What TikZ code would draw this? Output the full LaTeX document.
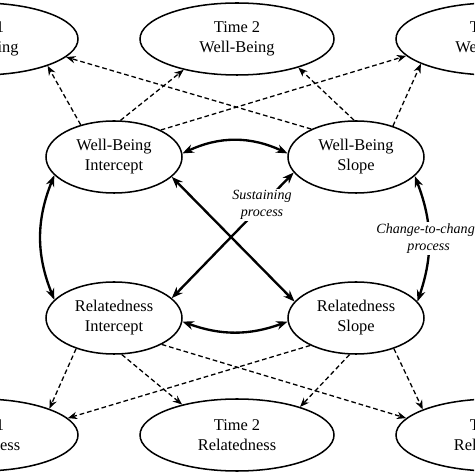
\documentclass[tikz,border=0pt]{standalone}
\usepackage{fontspec}
\setmainfont{Liberation Serif}
\usepackage{tikz}
\usetikzlibrary{shapes.geometric, arrows.meta, positioning}
\tikzset{
	timevar/.style ={ellipse, draw=black, line width=1.3pt, minimum width=5.82cm, minimum height=2.16cm, align=center, inner sep=0pt, font=\fontsize{14}{17}\selectfont},
	growth/.style  ={ellipse, draw=black, line width=1.3pt, minimum width=4.08cm, minimum height=2.16cm, align=center, inner sep=0pt, font=\fontsize{14}{17}\selectfont},
	covar/.style   ={arrows={Stealth[length=3.4mm,width=2.6mm]-Stealth[length=3.4mm,width=2.6mm]}, line width=2pt},
	loading/.style ={-{Stealth[length=2.8mm, width=2.2mm]}, line width=1.1pt, dash pattern=on 4pt off 2.5pt},
	procname/.style={font=\fontsize{12}{14.5}\selectfont\itshape, align=center, fill=white, inner sep=1pt},
}

\begin{document}
\begin{tikzpicture}[x=0.03cm, y=0.03cm]
	\useasboundingbox (0,0) rectangle (474,474);
	\clip (0,0) rectangle (474,474);
	% repeated measures
	\node[timevar] (tw1) at (-19,435) {Time 1\\Well-Being};
	\node[timevar] (tw2) at (237,435) {Time 2\\Well-Being};
	\node[timevar] (tw3) at (493,435) {Time 3\\Well-Being};
	\node[timevar] (tr1) at (-19,39) {Time 1\\Relatedness};
	\node[timevar] (tr2) at (237,39) {Time 2\\Relatedness};
	\node[timevar] (tr3) at (493,39) {Time 3\\Relatedness};
	% growth factors
	\node[growth] (wbi) at (114,317) {Well-Being\\Intercept};
	\node[growth] (wbs) at (356,317) {Well-Being\\Slope};
	\node[growth] (rli) at (114,156) {Relatedness\\Intercept};
	\node[growth] (rls) at (356,156) {Relatedness\\Slope};
	% loadings
	\draw[loading] (wbi.136) -- (tw1.338);
	\draw[loading] (wbi.80) -- (tw2.210);
	\draw[loading] (wbi.30) -- (tw3.191);
	\draw[loading] (wbs.148) -- (tw1.348);
	\draw[loading] (wbs.93) -- (tw2.335);
	\draw[loading] (wbs.40) -- (tw3.199);
	\draw[loading] (rli.219) -- (tr1.21);
	\draw[loading] (rli.282) -- (tr2.151);
	\draw[loading] (rli.331) -- (tr3.169);
	\draw[loading] (rls.211) -- (tr1.11);
	\draw[loading] (rls.260) -- (tr2.24);
	\draw[loading] (rls.321) -- (tr3.160);
	% covariances
	\draw[covar] (wbi.3) to[bend left=25] (wbs.177);
	\draw[covar] (rli.357) to[bend right=20] (rls.183);
	\draw[covar] (wbi.197) to[bend right=22] (rli.163);
	\draw[covar] (wbs.342) to[bend left=20] node[procname, midway] {Change-to-change\\process} (rls.15);
	\draw[covar] (wbi.341) -- (rls.165);
	\draw[covar] (rli.19) -- node[procname, pos=0.74] {Sustaining\\process} (wbs.194);
\end{tikzpicture}
\end{document}
